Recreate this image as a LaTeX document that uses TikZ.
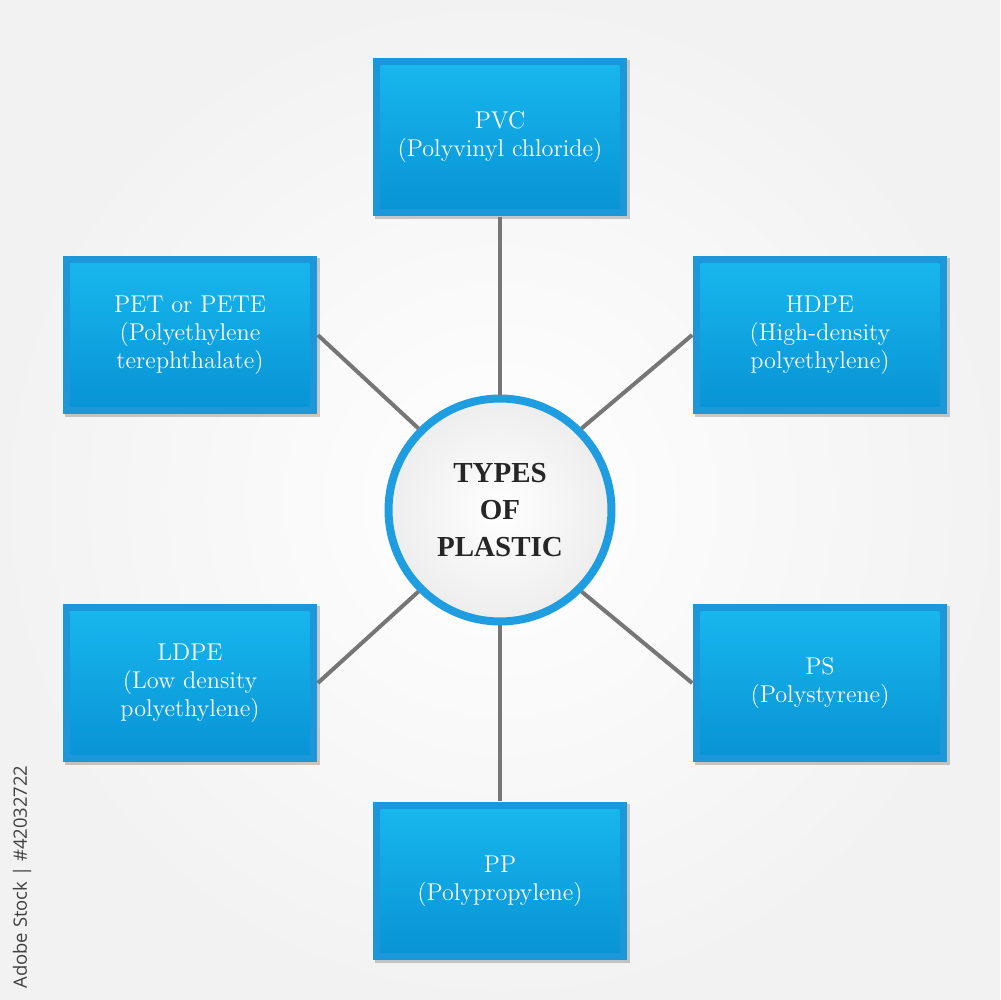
\documentclass[tikz,border=0pt]{standalone}
\usepackage{fontspec}
\newfontfamily\titlefont{Liberation Serif}
\newfontfamily\stockfont{Open Sans}
\usepackage{tikz}
\usetikzlibrary{shadows}
\definecolor{bandblue}{RGB}{28,152,218}
\definecolor{topblue}{RGB}{24,184,238}
\definecolor{botblue}{RGB}{8,146,212}
\definecolor{ringblue}{RGB}{30,158,224}
\definecolor{linkgray}{RGB}{118,118,118}
\tikzset{
  plasticbox/.style={rectangle, fill=bandblue, minimum width=5.1cm,
    minimum height=3.18cm, inner sep=0pt, align=center, text=white,
    font=\fontsize{13.8}{16}\selectfont,
    drop shadow={shadow xshift=0.05cm, shadow yshift=-0.05cm, opacity=0.2, fill=black},
    path picture={\shade[top color=topblue, bottom color=botblue]
      ([xshift=0.16cm,yshift=0.16cm]path picture bounding box.south west) rectangle
      ([xshift=-0.16cm,yshift=-0.16cm]path picture bounding box.north east);}},
  link/.style={draw=linkgray, line width=0.08cm}
}
\begin{document}
\begin{tikzpicture}[x=0.02cm, y=-0.02cm]
  % background
  \shade[inner color=white, outer color=gray!10] (0,0) rectangle (1000,1000);
  \useasboundingbox (0,0) rectangle (1000,1000);

  % the centre circle
  \node[circle, minimum size=4.46cm, draw=ringblue, line width=0.16cm,
    inner color=white, outer color=gray!14,
    drop shadow={shadow xshift=0.05cm, shadow yshift=-0.05cm, opacity=0.15, fill=black},
    align=center, text=black!85,
    font=\titlefont\bfseries\fontsize{16.5}{21}\selectfont] (types) at (500,510)
    {TYPES\\OF\\PLASTIC};

  % the six kinds
  \node[plasticbox] (pvc)  at (500,137) {PVC\\(Polyvinyl chloride)};
  \node[plasticbox] (pet)  at (190,335) {PET or PETE\\(Polyethylene\\terephthalate)};
  \node[plasticbox] (hdpe) at (820,335) {HDPE\\(High-density\\polyethylene)};
  \node[plasticbox] (ldpe) at (190,683) {LDPE\\(Low density\\polyethylene)};
  \node[plasticbox] (ps)   at (820,683) {PS\\(Polystyrene)};
  \node[plasticbox] (pp)   at (500,881) {PP\\(Polypropylene)};

  % links
  \draw[link] (types.north) -- (pvc.south);
  \draw[link] (types.135) -- (pet.east);
  \draw[link] (types.45) -- (hdpe.west);
  \draw[link] (types.225) -- (ldpe.east);
  \draw[link] (types.-45) -- (ps.west);
  \draw[link] (types.south) -- (pp.north);

  % stock number
  \node[rotate=90, text=black!75, font=\stockfont\fontsize{10.5}{11}\selectfont]
    (stock) at (22,877) {Adobe Stock | \#42032722};
\end{tikzpicture}
\end{document}
